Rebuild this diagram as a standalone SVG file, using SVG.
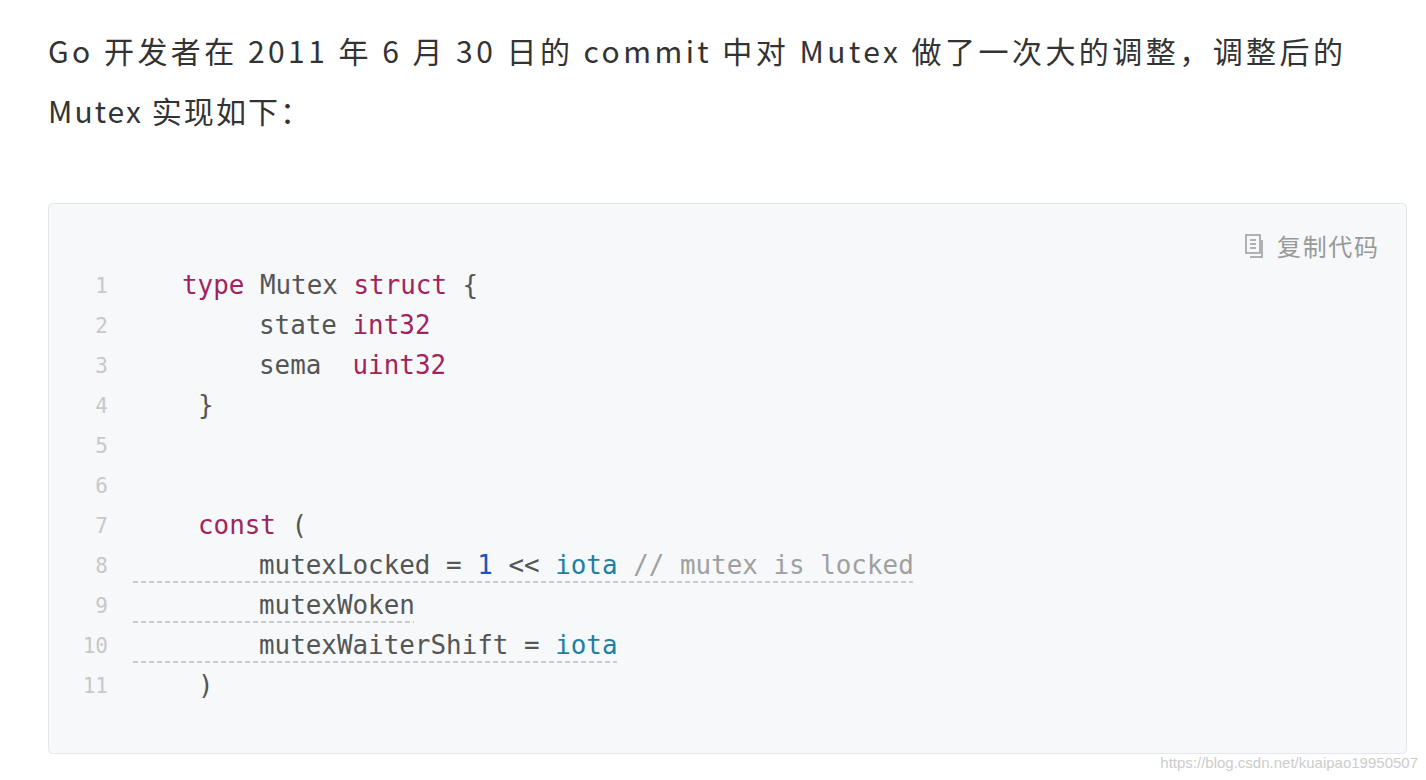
<svg xmlns="http://www.w3.org/2000/svg" width="1426" height="780" viewBox="0 0 1426 780">
<style>
.p{font-family:"Noto Sans CJK SC","Noto Sans",sans-serif;font-size:30px;fill:#333}
.c{font-family:"DejaVu Sans Mono","Liberation Mono",monospace;font-size:25.9px;fill:#555;white-space:pre}
.n{font-family:"DejaVu Sans Mono","Liberation Mono",monospace;font-size:21px;fill:#c8c8c8;text-anchor:end}
.k{fill:#a1245c}.b{fill:#1a56b8}.t{fill:#1f7fa3}.m{fill:#a0a0a0}
.u{stroke:#bbb;stroke-width:1.5;stroke-dasharray:5 3;fill:none}
</style>
<rect width="1426" height="780" fill="#fff"/>
<text class="p" x="48" y="63" textLength="1295" lengthAdjust="spacing">Go 开发者在 2011 年 6 月 30 日的 commit 中对 Mutex 做了一次大的调整，调整后的</text>
<text class="p" x="48" y="123" textLength="262" lengthAdjust="spacing">Mutex 实现如下：</text>
<rect x="48.5" y="203.5" width="1358" height="550" rx="4" fill="#f6f8fa" stroke="#e3e6ea"/>
<g fill="none" stroke="#999" stroke-width="1.5"><rect x="1246" y="235" width="14" height="18"/><path d="M1250 240h6M1250 244h6M1250 248h6M1262 240v17h-12"/></g>
<text x="1277" y="256" font-family="Noto Sans CJK SC,sans-serif" font-size="24" fill="#999" textLength="101">复制代码</text>
<g class="n">
<text x="108" y="293">1</text><text x="108" y="333">2</text><text x="108" y="373">3</text><text x="108" y="413">4</text><text x="108" y="453">5</text><text x="108" y="493">6</text><text x="108" y="533">7</text><text x="108" y="573">8</text><text x="108" y="613">9</text><text x="108" y="653">10</text><text x="108" y="693">11</text>
</g>
<g class="c">
<text xml:space="preserve" x="182" y="294"><tspan class="k">type</tspan> Mutex <tspan class="k">struct</tspan> {</text>
<text xml:space="preserve" x="259" y="334">state <tspan class="k">int32</tspan></text>
<text xml:space="preserve" x="259" y="374">sema  <tspan class="k">uint32</tspan></text>
<text x="198" y="414">}</text>
<text xml:space="preserve" x="198" y="534"><tspan class="k">const</tspan> (</text>
<text xml:space="preserve" x="259" y="574">mutexLocked = <tspan class="b">1</tspan> &lt;&lt; <tspan class="t">iota</tspan> <tspan class="m">// mutex is locked</tspan></text>
<text x="259" y="614">mutexWoken</text>
<text xml:space="preserve" x="259" y="654">mutexWaiterShift = <tspan class="t">iota</tspan></text>
<text x="198" y="694">)</text>
</g>
<path class="u" d="M133 582H913M133 622H414M133 662H617"/>
<text x="1418" y="768" text-anchor="end" font-family="Liberation Sans,sans-serif" font-size="15" fill="#ccc">https://blog.csdn.net/kuaipao19950507</text>
</svg>
